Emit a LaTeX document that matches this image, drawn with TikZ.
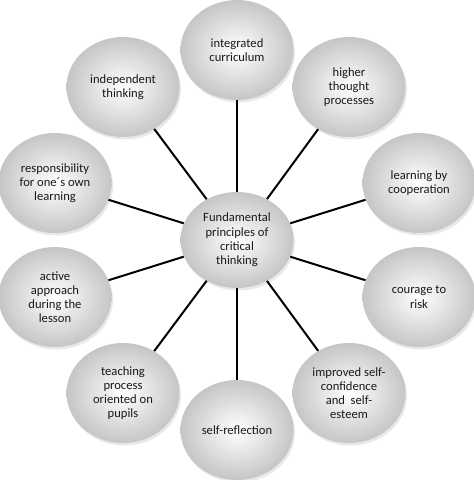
\documentclass[tikz,border=0pt]{standalone}
\usepackage{fontspec}
\setmainfont{Carlito}
\usetikzlibrary{shapes.geometric, shadows}

\begin{document}
\begin{tikzpicture}[
    x=1pt, y=-1pt,
    bubble/.style={ellipse, minimum width=113pt, minimum height=100pt, inner sep=0pt,
        align=center, font=\fontsize{12.6}{14.2}\selectfont, text=black!90,
        shading=radial, inner color=white, outer color=gray!45,
        drop shadow={opacity=0.18, shadow xshift=1.5pt, shadow yshift=-2.5pt}},
    spoke/.style={line width=2pt, black}
]
\useasboundingbox (0,0) rectangle (474,480);

% Centre
\node[bubble, minimum height=96pt] (core) at (237,240) {Fundamental\\principles of\\critical\\thinking};

% Principles
\node[bubble] (integr) at (237,50) {integrated\\curriculum};
\node[bubble] (higher) at (349,87) {higher\\thought\\processes};
\node[bubble] (coop) at (419,183) {learning by\\cooperation};
\node[bubble] (courage) at (419,297) {courage to\\risk};
\node[bubble] (selfconf) at (349,393) {improved self-\\confidence\\and\ \ self-\\esteem};
\node[bubble] (reflect) at (237,430) {self-reflection};
\node[bubble] (teach) at (123,393) {teaching\\process\\oriented on\\pupils};
\node[bubble] (active) at (55,297) {active\\approach\\during the\\lesson};
\node[bubble] (resp) at (55,183) {responsibility\\for one´s own\\learning};
\node[bubble] (indep) at (123,87) {independent\\thinking};

% Spokes
\foreach \p in {integr, higher, coop, courage, selfconf, reflect, teach, active, resp, indep}
    \draw[spoke] (core) -- (\p);

\end{tikzpicture}
\end{document}
